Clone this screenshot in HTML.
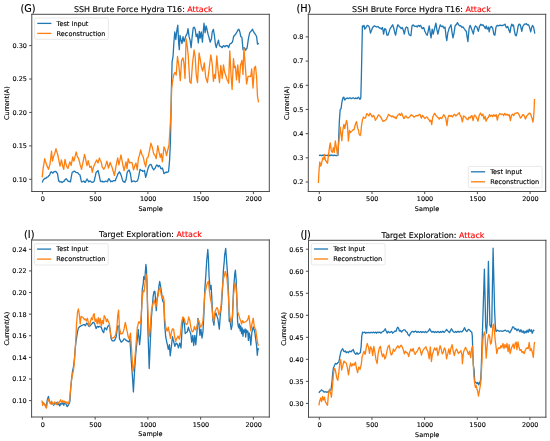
<!DOCTYPE html><html><head><meta charset="utf-8"><title>Reconstruction plots</title><style>html,body{margin:0;padding:0;background:#fff;overflow:hidden;}svg{display:block;}text{font-family:"DejaVu Sans","Liberation Sans",sans-serif;}</style></head><body>
<svg width="550" height="441" viewBox="0 0 550 441">
<rect width="550" height="441" fill="#fff"/>
<g>
<clipPath id="cG"><rect x="31.8" y="14.3" width="237.5" height="177.2"/></clipPath>
<polyline clip-path="url(#cG)" points="42.2,182.4 42.7,181.21 43.2,180.02 43.7,179.3 44.2,179.18 44.7,178.4 45.2,178.55 45.7,178.14 46.2,178 46.83,177.2 47.47,177.21 48.1,176.8 48.75,175.73 49.4,175.5 49.93,174.21 50.47,172.65 51,171.8 51.5,171.83 52,172.53 52.5,173 53.1,172.89 53.7,171.86 54.3,171.8 54.87,171.42 55.43,171.65 56,171.4 56.5,172.57 57,173 57.5,173.7 58.1,177.4 58.7,181.1 59.33,181.24 59.97,182 60.6,181.8 61.2,181.59 61.8,182.52 62.4,182.4 63.03,181.78 63.67,181.21 64.3,181.1 64.93,179.92 65.57,179.26 66.2,178.6 66.8,179.72 67.4,179.98 68,181.1 68.5,181.31 69,181.51 69.5,181.41 70,181.7 70.5,181.8 71.07,178.27 71.63,175.14 72.2,172.4 72.72,171.84 73.25,171.96 73.78,171.43 74.3,171.2 74.93,171.43 75.57,172.08 76.2,172.4 76.8,172.56 77.4,172.62 78,173 78.63,173.9 79.27,174.45 79.9,174.9 80.43,176.97 80.97,179.57 81.5,181.8 82.03,181.65 82.55,181.79 83.07,181.48 83.6,181.1 84.23,181.34 84.87,182.4 85.5,182.4 86,180.89 86.5,179.99 87,178.9 87.53,180.1 88.07,180.52 88.6,181.8 89.23,181.56 89.87,180.92 90.5,181.1 91.1,181.68 91.7,182.2 92.3,182.4 92.93,182.03 93.57,181.87 94.2,181.1 94.83,178.03 95.47,175.48 96.1,172.4 96.73,171.85 97.37,171.21 98,170.5 98.7,173.26 99.4,176.1 99.9,178.91 100.4,181.1 100.9,181.64 101.4,181.36 101.9,181.67 102.4,181.26 102.9,181.8 103.4,181.84 103.9,181.65 104.4,181.82 104.9,181.53 105.4,181.1 106.03,181.14 106.67,181.46 107.3,181.8 107.83,180.89 108.37,179.24 108.9,178.6 109.5,179.63 110.1,180.43 110.7,181.8 111.25,181.28 111.8,181.05 112.35,181.52 112.9,181.1 113.4,180.65 113.9,180.63 114.4,180.64 114.9,180.95 115.4,180.5 115.9,178.76 116.4,177.73 116.9,176.46 117.4,175.41 117.9,173.7 118.4,173.35 118.9,172.76 119.4,171.8 119.93,172.63 120.47,173.79 121,174.9 121.63,176.84 122.27,179.38 122.9,181.1 123.53,181.95 124.17,181.65 124.8,182.4 125.4,180.86 126,179.9 126.6,176.15 127.2,172.4 127.83,171.33 128.47,170.49 129.1,169.9 129.75,171.79 130.4,173.7 131,177.75 131.6,181.8 132.23,181.65 132.87,181.12 133.5,181.1 134.13,180.89 134.77,181.49 135.4,181.8 136,181.45 136.6,181.39 137.2,181.1 137.85,179.66 138.5,177.4 139,174.87 139.5,172.01 140,169.3 140.53,169.81 141.07,170.26 141.6,170.5 142.13,170.33 142.67,171.33 143.2,171.2 143.85,171.1 144.5,170.5 145.1,174.29 145.7,177.4 146.35,175.17 147,172.4 147.6,170.1 148.2,168 148.7,166.88 149.2,165.58 149.7,164.9 150.2,164.95 150.7,164.37 151.2,164.7 151.8,165.96 152.4,168 153.05,168.69 153.7,169.9 154.23,168.96 154.77,168.49 155.3,168 155.83,166.56 156.37,165.48 156.9,164.9 157.55,165.54 158.2,166.8 158.8,165.79 159.4,165.5 159.9,166.44 160.4,167.21 160.9,168.7 161.4,168.8 161.9,168.34 162.4,168 162.93,169.58 163.47,171.58 164,173.7 164.57,173.13 165.13,172.71 165.7,172.4 166.27,171.99 166.83,172.58 167.4,172.2 168,172.14 168.6,171.2 169.1,165.6 169.6,160 170.4,142.5 170.9,120 171.4,90 172.1,61.9 172.6,58.85 173.1,55.8 173.9,42.2 174.8,32 175.3,35.75 175.8,39.5 176.35,34.75 176.9,30 177.8,25.2 178.6,42.2 179.3,49.6 180,35.4 180.9,39.5 181.45,41.47 182,43.5 182.5,40.1 183,36.7 183.55,39.09 184.1,41.5 185,38.8 185.55,36.73 186.1,35.4 186.6,34.34 187.1,34 188,28.6 188.55,32.65 189.1,36.7 189.65,38.61 190.2,40.8 191.1,47.6 191.6,42.5 192.1,37.4 192.65,32.65 193.2,27.9 193.75,27.34 194.3,27.2 195.2,29.3 195.7,33 196.2,36.7 196.75,35.65 197.3,34 197.8,38.45 198.3,42.9 198.8,37.1 199.3,31.3 200.2,38.1 200.75,34.75 201.3,32 201.85,37.1 202.4,42.2 202.9,36.1 203.4,30 204,23.2 204.55,27.95 205.1,32.7 205.6,29.3 206.1,25.9 206.75,28.17 207.4,31.3 208.1,34.41 208.8,36.7 209.5,39.48 210.2,42.2 210.85,40.18 211.5,38.8 212.2,32 212.8,30.69 213.4,29.3 213.9,32.35 214.4,35.4 214.9,39.8 215.4,44.2 216.3,47.6 216.85,45.12 217.4,43.5 217.95,41.83 218.5,40.1 219,43.28 219.5,45.6 220.15,46.28 220.8,46.3 221.5,47.13 222.2,47.6 222.85,46.39 223.5,45.6 224.2,46.13 224.9,46.9 225.6,45.95 226.3,45.6 226.95,45.84 227.6,45.6 228.1,46.63 228.6,47.6 229.15,46.15 229.7,44.2 230.35,43.7 231,43.5 231.7,42.6 232.4,42.2 233.05,39.43 233.7,36.1 234.4,35.84 235.1,34.7 235.8,34.02 236.5,32.7 237.15,31.58 237.8,29.9 238.35,29.89 238.9,29.3 239.4,30.87 239.9,32 240.8,36.7 241.35,36.8 241.9,37.4 242.45,43.5 243,49.6 243.65,48.62 244.3,47.6 245,48.82 245.7,50.3 246.35,48.88 247,48.3 247.7,43.55 248.4,38.8 249.1,35.33 249.8,32.7 250.45,31.8 251.1,31.3 251.8,30.08 252.5,29.3 253.15,30.82 253.8,32 254.5,33.41 255.2,34 255.9,35.3 256.6,36.7 257.5,44.2 258,43.94 258.5,42.9" fill="none" stroke="#1f77b4" stroke-width="1.3" stroke-linejoin="round" stroke-linecap="butt"/>
<polyline clip-path="url(#cG)" points="42.2,177.4 43.1,168.7 43.63,165.37 44.17,162.03 44.7,158.7 45.35,161.19 46,163 46.9,165.5 47.43,167.09 47.97,167.94 48.5,169.3 49,167.44 49.5,165.78 50,164.3 50.5,159.93 51,155.57 51.5,151.2 52,156.2 52.5,161.2 53,158.79 53.5,156.8 54.1,155.04 54.7,153.7 55.35,151.29 56,148.7 56.5,150.65 57,152.27 57.5,153.7 58.1,156.49 58.7,159.3 59.35,162.86 60,166.2 60.7,163.31 61.4,160 61.9,162.21 62.4,165 63.05,167.26 63.7,169.3 64.35,164.3 65,159.3 65.7,162.69 66.4,165.5 66.93,166.66 67.47,167.61 68,168.4 68.63,166.18 69.27,163.77 69.9,161.8 70.55,163.85 71.2,165.5 71.7,162.48 72.2,159.91 72.7,156.8 73.3,159.33 73.9,161.2 74.48,158.78 75.05,156.43 75.62,154.46 76.2,151.8 76.8,154.46 77.4,156.8 78.3,158 79,160 79.6,162.27 80.2,165 80.85,166.89 81.5,169.3 82.1,166.26 82.7,163.7 83.3,160.85 83.9,157.65 84.5,154.3 85.1,156.55 85.7,159.3 86.35,162.63 87,165.5 87.6,163.39 88.2,160.6 88.73,162.98 89.27,165.03 89.8,167.4 90.45,166.83 91.1,166.2 91.7,169.04 92.3,172.4 92.95,169.26 93.6,166.8 94.2,165.58 94.8,163.7 95.43,162.57 96.07,161.25 96.7,160 97.35,161.8 98,163 98.7,160.45 99.4,158 99.97,159.53 100.53,160.76 101.1,161.8 101.7,164.4 102.3,167.4 102.83,167.86 103.37,168.52 103.9,169.3 104.4,168.09 104.9,167.29 105.4,166.2 105.9,164.36 106.4,162.81 106.9,161.2 107.43,163.21 107.97,166.02 108.5,168 109.07,166.03 109.63,164.24 110.2,162.4 110.7,163.73 111.2,165.22 111.7,166.2 112.2,167.81 112.7,169.83 113.2,171.2 113.8,173.35 114.4,175.5 114.93,172.42 115.47,169.32 116,166.2 116.57,163.13 117.13,160.69 117.7,158 118.3,161.23 118.9,164.9 119.43,162.08 119.95,160.16 120.47,157.25 121,155 121.53,157.88 122.07,160.96 122.6,163.7 123.1,166.01 123.6,168.11 124.1,170.5 124.73,167.68 125.37,164.87 126,162 126.5,165.35 127,168.7 127.6,163.7 128.2,158.7 128.85,161.05 129.5,163 130,162.52 130.5,162.64 131,162.4 131.6,162.52 132.2,163 132.85,166.29 133.5,169.9 134.1,168.24 134.7,166.2 135.35,164.61 136,163 136.6,166.49 137.2,169.9 137.85,163.95 138.5,158 139,156.68 139.5,155 140.1,152.79 140.7,150 141.35,152.46 142,155 142.6,155.98 143.2,156.8 143.85,159.9 144.5,163 145.1,164.91 145.7,166.8 146.35,162.4 147,158 147.6,157.53 148.2,156.8 148.8,153.97 149.4,151.2 149.9,148.52 150.4,145.78 150.9,143.1 151.55,145.26 152.2,146.8 152.7,149.24 153.2,151.66 153.7,153.7 154.3,154.66 154.9,155 155.55,156.68 156.2,158.7 156.73,154.33 157.27,149.97 157.8,145.6 158.4,148.74 159,151.8 159.65,154.91 160.3,157.4 161.2,153.7 161.8,157.75 162.4,161.8 162.93,156.8 163.47,151.8 164,146.8 164.65,148.64 165.3,150 165.9,152.55 166.5,155.6 167.15,152.54 167.8,150 168.4,147.46 169,145 169.6,135 170.4,122 171,109.8 171.7,88 172.25,83.95 172.8,79.9 173.35,76.9 173.9,74.5 174.8,72.4 175.5,73.57 176.2,75.1 176.85,65.8 177.5,56.5 178.2,61.25 178.9,66 179.6,73.3 180.3,80.6 180.95,70.55 181.6,60.5 182.3,58.95 183,58 183.9,63 184.45,70.75 185,78.5 185.55,58.65 186.1,38.8 186.6,41.9 187.1,45 187.65,50 188.2,55 188.73,63.97 189.27,72.93 189.8,81.9 190.45,82.72 191.1,83.3 191.8,73.45 192.5,63.6 193.03,59.07 193.57,54.53 194.1,50 194.65,53.5 195.2,57 195.7,65.75 196.2,74.5 196.85,78.55 197.5,82.6 198.03,72.73 198.57,62.87 199.1,53 199.7,56.45 200.3,59.5 200.8,62.9 201.3,66.3 202,68.98 202.7,71.1 203.23,68.12 203.77,65.78 204.3,62.9 205,70.05 205.7,77.2 206.27,79.11 206.83,80.55 207.4,82.6 208.1,77.15 208.8,71.7 209.3,67.47 209.8,63.25 210.3,59.02 210.8,54.8 211.5,59.4 212.2,64 212.8,72.65 213.4,81.3 213.9,77.9 214.4,74.5 214.9,76.77 215.4,78.5 216.1,67.25 216.8,56 217.45,63.2 218.1,70.4 218.8,76.5 219.5,82.6 220.15,74.05 220.8,65.5 221.5,72 222.2,78.5 222.85,71.7 223.5,64.9 224.2,69.33 224.9,73.1 225.6,74.95 226.3,77.2 226.95,79.22 227.6,80.6 228.1,81.88 228.6,83.3 229.2,67.15 229.8,51 230.4,62.75 231,74.5 231.55,81.95 232.1,89.4 232.8,74 233.5,58.6 234.4,67.7 234.9,66.99 235.4,66.3 235.95,73.1 236.5,79.9 237.15,72.4 237.8,64.9 238.5,73.75 239.2,82.6 239.85,73.75 240.5,64.9 241.2,63.04 241.9,60.5 242.45,67.5 243,74.5 243.9,47.6 244.6,56.95 245.3,66.3 245.95,75.15 246.6,84 247.3,80.48 248,76.5 248.7,76.26 249.4,76.5 250.05,76.45 250.7,76.5 251.2,72.75 251.7,69 252.35,78.5 253,88 253.7,77.85 254.4,67.7 254.95,67.01 255.5,66.3 256.05,71.75 256.6,77.2 257.5,96.2 258,99.25 258.5,102.3" fill="none" stroke="#ff7f0e" stroke-width="1.3" stroke-linejoin="round" stroke-linecap="butt"/>
<path d="M31.8,13.8V192M269.3,13.8V192M31.3,14.3H269.8M31.3,191.5H269.8" fill="none" stroke="#4d4d4d" stroke-width="1.0"/>
<g fill="#000" stroke="#000" stroke-width="0.12">
<line x1="42.4" y1="191.5" x2="42.4" y2="194.1" stroke="#4d4d4d" stroke-width="1.0"/>
<text x="42.7" y="201.3" font-size="6.47" text-anchor="middle">0</text>
<line x1="95.15" y1="191.5" x2="95.15" y2="194.1" stroke="#4d4d4d" stroke-width="1.0"/>
<text x="95.45" y="201.3" font-size="6.47" text-anchor="middle">500</text>
<line x1="147.9" y1="191.5" x2="147.9" y2="194.1" stroke="#4d4d4d" stroke-width="1.0"/>
<text x="148.2" y="201.3" font-size="6.47" text-anchor="middle">1000</text>
<line x1="200.65" y1="191.5" x2="200.65" y2="194.1" stroke="#4d4d4d" stroke-width="1.0"/>
<text x="200.95" y="201.3" font-size="6.47" text-anchor="middle">1500</text>
<line x1="253.4" y1="191.5" x2="253.4" y2="194.1" stroke="#4d4d4d" stroke-width="1.0"/>
<text x="253.7" y="201.3" font-size="6.47" text-anchor="middle">2000</text>
<line x1="29.2" y1="179.3" x2="31.8" y2="179.3" stroke="#4d4d4d" stroke-width="1.0"/>
<text x="26.9" y="181.66" font-size="6.47" text-anchor="end">0.10</text>
<line x1="29.2" y1="145.88" x2="31.8" y2="145.88" stroke="#4d4d4d" stroke-width="1.0"/>
<text x="26.9" y="148.24" font-size="6.47" text-anchor="end">0.15</text>
<line x1="29.2" y1="112.45" x2="31.8" y2="112.45" stroke="#4d4d4d" stroke-width="1.0"/>
<text x="26.9" y="114.81" font-size="6.47" text-anchor="end">0.20</text>
<line x1="29.2" y1="79.02" x2="31.8" y2="79.02" stroke="#4d4d4d" stroke-width="1.0"/>
<text x="26.9" y="81.38" font-size="6.47" text-anchor="end">0.25</text>
<line x1="29.2" y1="45.6" x2="31.8" y2="45.6" stroke="#4d4d4d" stroke-width="1.0"/>
<text x="26.9" y="47.96" font-size="6.47" text-anchor="end">0.30</text>
<text x="150.55" y="210.9" font-size="6.47" text-anchor="middle">Sample</text>
<text transform="translate(8.5,103.1) rotate(-90)" font-size="6.47" text-anchor="middle">Current(A)</text>
<text x="74.0" y="12.0" font-size="7.95">SSH Brute Force Hydra T16: <tspan fill="#ff0000" stroke="#ff0000">Attack</tspan></text>
<text x="20.4" y="11.6" font-size="9.75">(G)</text>
</g>
<rect x="34.6" y="18" width="73.8" height="21.3" rx="1.3" fill="#fff" fill-opacity="0.8" stroke="#e0e0e0" stroke-width="0.7"/>
<line x1="37.3" y1="23.4" x2="51.4" y2="23.4" stroke="#1f77b4" stroke-width="1.3"/>
<text x="56.5" y="25.7" font-size="6.55" fill="#000" stroke="#000" stroke-width="0.12">Test Input</text>
<line x1="37.3" y1="33.4" x2="51.4" y2="33.4" stroke="#ff7f0e" stroke-width="1.3"/>
<text x="56.5" y="35.7" font-size="6.55" fill="#000" stroke="#000" stroke-width="0.12">Reconstruction</text>
</g>
<g>
<clipPath id="cH"><rect x="308.3" y="14.3" width="237.4" height="177.2"/></clipPath>
<polyline clip-path="url(#cH)" points="319,155.6 319.5,155.37 320,155.16 320.5,155.3 321,155.25 321.5,155.68 322,155.6 322.5,155.08 323,155.38 323.5,155.2 324,155.25 324.5,155.01 325,155.5 325.5,155.3 326,155.47 326.5,155.3 327,155.41 327.5,155.15 328,155.6 328.5,155.85 329,155.56 329.5,155.2 330,155.68 330.5,155.08 331,155.5 331.5,155.25 332,155 332.5,155.3 333,155.62 333.5,155.32 334,155.6 334.5,155.2 335,155.34 335.5,155.3 336,155.7 336.5,155.69 337,155.5 337.9,155.4 338.4,144.8 338.9,132.55 339.4,120.3 340.2,109.5 341.1,108.8 341.8,102.7 342.35,100.11 342.9,97.9 343.4,97.27 343.9,97.2 344.5,99.9 345.2,99.59 345.9,98.6 346.6,98.31 347.3,97.9 347.95,98.41 348.6,98.6 349.3,97.92 350,97.9 350.53,97.78 351.07,98.52 351.6,98.6 352.3,98.19 353,97.9 353.65,97.91 354.3,98.6 355,98.6 355.7,97.9 356.35,98.36 357,98.6 357.7,98.14 358.4,97.2 359.1,97.92 359.8,99.3 360.3,98.88 360.8,97.9 361.3,80 361.8,55 362.4,25.9 363.2,26.5 364,25.4 364.8,29.2 365.6,28.1 366.5,26.5 367.05,25.6 367.6,25.4 368.15,25.94 368.7,25.9 369.5,28.1 370,30.51 370.5,33 371.05,31.52 371.6,30.3 372.15,28.69 372.7,27 373.4,26.79 374.1,25.9 374.75,26.01 375.4,26.5 375.95,26.45 376.5,27 377.15,26.77 377.8,26.5 378.3,26.82 378.8,27.25 379.3,28.1 379.85,27.83 380.4,28.1 380.9,28.29 381.4,29.2 381.95,28.11 382.5,27.5 383.05,30.65 383.6,34.1 384.15,31.19 384.7,28.6 385.25,29.11 385.8,29.2 386.35,32.03 386.9,35.2 387.45,35.2 388,35.2 388.55,33.29 389.1,31.9 389.65,30.13 390.2,28.6 390.75,27.41 391.3,27 392,25.7 392.7,24.8 393.4,27 393.95,28.81 394.5,31.4 395.05,33.49 395.6,35.2 396.15,32.24 396.7,29.2 397.25,26.75 397.8,24.8 398.35,25.33 398.9,25.9 399.45,26.8 400,27 400.55,27.49 401.1,28.6 401.65,28.31 402.2,27.5 402.75,28.85 403.3,30.3 403.8,32.2 404.3,34.1 404.85,31.62 405.4,28.6 405.95,27.71 406.5,27 407.05,27.26 407.6,27.5 408.15,30.65 408.7,33.5 409.25,34.74 409.8,35.2 410.35,35.32 410.9,35.7 411.45,30.8 412,25.9 412.55,25.62 413.1,24.8 413.65,25.52 414.2,25.9 415,26.5 415.55,26.31 416.1,25.9 416.65,26.37 417.2,27 417.75,26.08 418.3,25.4 418.85,25.59 419.4,26.5 419.95,25.65 420.5,25.4 421,26.11 421.5,27.5 422.05,28.24 422.6,28.6 423.15,27.85 423.7,27.5 424.25,29.18 424.8,31.4 425.35,32.12 425.9,33.5 426.55,34.62 427.2,35.2 427.75,33.05 428.3,30.3 429.2,25.9 430,31.4 430.55,34.79 431.1,37.9 431.65,33.55 432.2,29.2 432.75,31.48 433.3,34.1 433.85,31.44 434.4,29.2 434.9,27.03 435.4,25.17 435.9,23.2 436.8,29.2 437.35,31.38 437.9,34.1 438.45,31.61 439,29.2 439.65,26.81 440.3,24.8 441,26.02 441.7,26.5 442.25,26.58 442.8,25.9 443.35,27.04 443.9,28.1 444.45,27.35 445,27 445.55,31.9 446.1,36.8 446.8,40.6 447.35,36.5 447.9,32.4 448.45,30.87 449,28.6 449.55,27.4 450.1,26.5 451,24.8 451.55,28.9 452.1,33 453,37.9 453.5,35.59 454,33.5 454.55,29.7 455.1,25.9 455.75,24.95 456.4,24.8 456.95,23.61 457.5,22.6 458.05,23.68 458.6,24.8 459.15,25.35 459.7,25.9 460.25,25.66 460.8,25.9 461.35,26.7 461.9,27.5 462.45,26.85 463,27 463.55,27.61 464.1,28.6 464.65,29.12 465.2,30.3 465.75,30.77 466.3,31.4 467.1,36.8 467.9,41.7 468.45,35.45 469,29.2 469.55,26.93 470.1,25.4 470.65,26.37 471.2,28.1 471.75,29.39 472.3,31 472.8,32.34 473.3,34.1 473.85,31.17 474.4,28.1 474.95,27.02 475.5,25.9 476.2,26.65 476.9,27 477.6,29.33 478.3,31.4 478.95,28.82 479.6,25.9 480.15,25.4 480.7,24.3 481.35,24.76 482,25.4 482.55,24.96 483.1,24.8 483.65,26.04 484.2,26.5 484.75,27.27 485.3,28.6 486.2,25.9 486.75,27.73 487.3,29.2 487.85,28.21 488.4,27 489.2,31.9 489.75,29.09 490.3,27 490.95,27.02 491.6,26.5 492.15,27.61 492.7,28.1 493.25,31.2 493.8,34.1 494.35,34.84 494.9,35.2 495.45,31.1 496,27 496.55,26.45 497.1,25.4 497.63,25.28 498.17,25.75 498.7,25.9 499.35,25.45 500,25 500.6,25.43 501.2,25.58 501.8,25.5 502.4,25.59 503,25.23 503.6,25 504.3,24.86 505,24.1 505.7,26.05 506.4,27.7 507.05,27.2 507.7,26.4 508.4,28.23 509.1,30.5 510,32.7 510.9,26.8 511.8,24.1 512.7,25.9 513.5,25 514.4,30.9 515.3,35 516.2,35.9 517.1,32.3 518,26.8 518.55,25.07 519.1,24.1 519.65,24.26 520.2,25 520.9,27.3 521.8,31.4 522.7,26.8 523.25,25.79 523.8,25 524.4,24.23 525,24.1 525.7,24.12 526.4,23.6 527.3,25 528.2,24.5 529.1,25.9 530,29.1 530.7,31.8 531.6,27.7 532.5,25.5 533,26.2 533.5,26.8 534.4,31.4 534.8,33.6" fill="none" stroke="#1f77b4" stroke-width="1.3" stroke-linejoin="round" stroke-linecap="butt"/>
<polyline clip-path="url(#cH)" points="318.4,183 319,170.8 319.8,161.9 320.3,164.05 320.8,166 321.7,162.6 322.25,160.35 322.8,157.9 323.35,158.69 323.9,159.2 324.4,154.5 324.95,157.54 325.5,160.6 326.05,160.85 326.6,161.9 327.5,163.3 328,159.2 328.5,155.1 329.05,150.7 329.6,146.3 330.3,142.9 331.2,150.4 331.75,151.64 332.3,152.4 332.85,150.25 333.4,147.7 334.3,152.4 334.8,146.65 335.3,140.9 335.85,144.3 336.4,147.7 336.95,151.4 337.5,155.1 338.4,146.3 338.9,141.45 339.4,136.6 340.2,127.1 341.1,133.9 341.8,140.7 342.35,135.25 342.9,129.8 343.4,127.1 343.9,124.4 344.8,128.5 345.6,124.4 346.1,122.38 346.6,120.3 347.5,125.8 348.4,141 348.95,135.75 349.5,130.5 350.05,131.68 350.6,132.6 351.1,131.55 351.6,131.2 352.3,130.69 353,129.8 353.5,129.6 354,129.8 354.7,126.76 355.4,124.4 355.95,122.86 356.5,121.7 357.4,127.1 357.9,128.73 358.4,130 359.3,134.6 360.2,135.5 360.7,134.4 361.5,125.7 362.4,120.3 362.95,118.41 363.5,117 364,117.74 364.5,118.1 365.05,118.18 365.6,117.5 366.15,115.6 366.7,113.7 367.25,113.91 367.8,114.3 368.35,115.08 368.9,115.9 369.45,114.7 370,113.2 370.55,114.21 371.1,114.8 371.65,115.99 372.2,117 372.75,116.31 373.3,115.4 373.85,115.86 374.4,117 374.9,118.37 375.4,120.3 375.95,119.25 376.5,118.6 377.05,117.74 377.6,116.5 378.15,115.49 378.7,114.8 379.25,115.4 379.8,115.9 380.35,116.31 380.9,117.5 381.45,118.25 382,119.7 382.55,120.37 383.1,121.4 383.65,121.24 384.2,120.8 384.75,120.7 385.3,120.3 385.85,119.89 386.4,119.2 386.9,117.93 387.4,117 387.95,115.66 388.5,114.3 389.05,114.82 389.6,115.4 390.15,115.62 390.7,115.9 391.25,116.14 391.8,117 392.35,116.76 392.9,115.9 393.45,116.46 394,117.5 394.55,117.63 395.1,117 395.65,118.15 396.2,118.6 396.75,116.86 397.3,115.9 397.8,115.32 398.3,114.8 398.85,114.51 399.4,113.7 399.95,114.92 400.5,115.4 401.05,114.26 401.6,113.2 402.15,114.36 402.7,115.9 403.25,117.02 403.8,118.6 404.35,118.16 404.9,117 405.45,116.22 406,115.9 406.55,116.77 407.1,117.5 407.65,117.51 408.2,118.1 408.75,117.57 409.3,117 409.8,116.81 410.3,115.9 410.85,115.06 411.4,114.8 411.95,115.36 412.5,115.4 413.05,116.21 413.6,117 414.15,117.06 414.7,116.5 415.25,116.21 415.8,115.6 416.6,115.9 417.17,115.52 417.73,115.88 418.3,115.4 418.83,115.02 419.37,114.29 419.9,114.3 420.6,115.8 421.3,118.1 421.95,116.74 422.6,115.4 423.15,116.16 423.7,117 424.35,117.64 425,118.6 425.5,117.78 426,117.41 426.5,117 427,117.1 427.5,117.5 428.05,118.62 428.6,119.2 429.15,119.9 429.7,121.4 430.25,121.05 430.8,120.3 431.7,124.6 432.2,120.8 432.7,117 433.25,116.17 433.8,114.8 434.3,113.7 434.8,113.2 435.35,114.64 435.9,115.4 436.45,116.12 437,116.5 437.55,117.32 438.1,117.5 438.65,118.18 439.2,119.2 439.75,118.25 440.3,117.5 440.85,117.96 441.4,118.6 441.95,118.2 442.5,117 443.05,115.97 443.6,114.8 444.15,115.24 444.7,115.9 445.25,117.19 445.8,118.6 446.4,121.97 447,125.7 447.9,118.1 448.45,116.39 449,115.4 449.55,115.63 450.1,116.5 450.65,116.22 451.2,115.4 451.75,116.03 452.3,117 452.85,116.55 453.4,115.4 453.95,114.65 454.5,114.3 455.05,114.91 455.6,115.9 456.15,115.66 456.7,115.4 457.2,114.6 457.7,114.3 458.2,113.63 458.7,113.53 459.2,112.6 459.75,114.31 460.3,115.4 460.8,116.45 461.3,117 461.85,119.55 462.4,121.9 462.95,119.23 463.5,115.9 464.05,116.55 464.6,116.5 465.15,117.04 465.7,117.5 466.25,118.53 466.8,119.2 467.35,119.09 467.9,119.7 468.45,118.54 469,117 469.55,117.51 470.1,118.1 470.65,117.2 471.2,115.9 472,115.7 472.55,118.27 473.1,120.6 473.75,117.73 474.4,115.2 475.1,115.39 475.8,116.3 476.35,117.69 476.9,118.4 477.45,119.5 478,121.2 478.55,118.43 479.1,115.7 479.8,114.22 480.5,113 481.15,114.19 481.8,115.7 482.35,115.09 482.9,114.1 483.45,116.93 484,119 484.55,117.46 485.1,116.3 486,121.2 486.65,119.92 487.3,118.4 487.85,117.74 488.4,117.4 488.9,116.05 489.4,114.6 489.95,115.37 490.5,116.3 491.05,115.48 491.6,115.2 492.15,115.73 492.7,116.8 493.25,115.47 493.8,114.6 494.45,115.77 495.1,116.3 495.65,115.45 496.2,114.6 496.75,117.13 497.3,120.1 497.85,117.98 498.4,115.2 499.1,114.75 499.8,113.5 500.5,114.01 501.2,114.6 501.85,114.06 502.5,114.1 503.05,114.65 503.6,115.7 504.15,114.27 504.7,113.5 505.35,114.22 506,115.2 506.55,114.32 507.1,114.1 507.65,114.69 508.2,115.7 508.75,114.96 509.3,114.6 509.85,117.66 510.4,120.6 510.95,118.21 511.5,115.2 512.05,114.85 512.6,114.1 513.15,114.83 513.7,115.7 514.2,114.53 514.7,113.5 515.27,113.39 515.83,113.13 516.4,113.1 517.05,112.77 517.7,112.7 518.4,113.45 519.1,114.9 519.75,116.32 520.4,118.1 521.1,117.57 521.8,116.3 522.5,115.1 523.2,114.5 523.85,115.4 524.5,116.3 525.4,119 526.1,117.5 526.8,115.8 527.45,115.44 528.1,114.5 528.8,113.57 529.5,113.1 530.05,113.37 530.6,114 531.5,116.7 532.2,119 533,122.2 533.6,117.2 534.2,108.1 534.5,99.1" fill="none" stroke="#ff7f0e" stroke-width="1.3" stroke-linejoin="round" stroke-linecap="butt"/>
<path d="M308.3,13.8V192M545.7,13.8V192M307.8,14.3H546.2M307.8,191.5H546.2" fill="none" stroke="#4d4d4d" stroke-width="1.0"/>
<g fill="#000" stroke="#000" stroke-width="0.12">
<line x1="319.3" y1="191.5" x2="319.3" y2="194.1" stroke="#4d4d4d" stroke-width="1.0"/>
<text x="319.6" y="201.3" font-size="6.47" text-anchor="middle">0</text>
<line x1="372" y1="191.5" x2="372" y2="194.1" stroke="#4d4d4d" stroke-width="1.0"/>
<text x="372.3" y="201.3" font-size="6.47" text-anchor="middle">500</text>
<line x1="424.7" y1="191.5" x2="424.7" y2="194.1" stroke="#4d4d4d" stroke-width="1.0"/>
<text x="425" y="201.3" font-size="6.47" text-anchor="middle">1000</text>
<line x1="477.4" y1="191.5" x2="477.4" y2="194.1" stroke="#4d4d4d" stroke-width="1.0"/>
<text x="477.7" y="201.3" font-size="6.47" text-anchor="middle">1500</text>
<line x1="530.1" y1="191.5" x2="530.1" y2="194.1" stroke="#4d4d4d" stroke-width="1.0"/>
<text x="530.4" y="201.3" font-size="6.47" text-anchor="middle">2000</text>
<line x1="305.7" y1="182" x2="308.3" y2="182" stroke="#4d4d4d" stroke-width="1.0"/>
<text x="303.4" y="184.36" font-size="6.47" text-anchor="end">0.2</text>
<line x1="305.7" y1="157.82" x2="308.3" y2="157.82" stroke="#4d4d4d" stroke-width="1.0"/>
<text x="303.4" y="160.18" font-size="6.47" text-anchor="end">0.3</text>
<line x1="305.7" y1="133.63" x2="308.3" y2="133.63" stroke="#4d4d4d" stroke-width="1.0"/>
<text x="303.4" y="135.99" font-size="6.47" text-anchor="end">0.4</text>
<line x1="305.7" y1="109.45" x2="308.3" y2="109.45" stroke="#4d4d4d" stroke-width="1.0"/>
<text x="303.4" y="111.81" font-size="6.47" text-anchor="end">0.5</text>
<line x1="305.7" y1="85.27" x2="308.3" y2="85.27" stroke="#4d4d4d" stroke-width="1.0"/>
<text x="303.4" y="87.63" font-size="6.47" text-anchor="end">0.6</text>
<line x1="305.7" y1="61.08" x2="308.3" y2="61.08" stroke="#4d4d4d" stroke-width="1.0"/>
<text x="303.4" y="63.44" font-size="6.47" text-anchor="end">0.7</text>
<line x1="305.7" y1="36.9" x2="308.3" y2="36.9" stroke="#4d4d4d" stroke-width="1.0"/>
<text x="303.4" y="39.26" font-size="6.47" text-anchor="end">0.8</text>
<text x="427" y="210.9" font-size="6.47" text-anchor="middle">Sample</text>
<text transform="translate(288.8,103.1) rotate(-90)" font-size="6.47" text-anchor="middle">Current(A)</text>
<text x="352.1" y="12.0" font-size="7.95">SSH Brute Force Hydra T16: <tspan fill="#ff0000" stroke="#ff0000">Attack</tspan></text>
<text x="296.4" y="11.6" font-size="9.75">(H)</text>
</g>
<rect x="468.3" y="166.4" width="73.8" height="21.3" rx="1.3" fill="#fff" fill-opacity="0.8" stroke="#e0e0e0" stroke-width="0.7"/>
<line x1="471" y1="171.8" x2="485.1" y2="171.8" stroke="#1f77b4" stroke-width="1.3"/>
<text x="490.2" y="174.1" font-size="6.55" fill="#000" stroke="#000" stroke-width="0.12">Test Input</text>
<line x1="471" y1="181.8" x2="485.1" y2="181.8" stroke="#ff7f0e" stroke-width="1.3"/>
<text x="490.2" y="184.1" font-size="6.55" fill="#000" stroke="#000" stroke-width="0.12">Reconstruction</text>
</g>
<g>
<clipPath id="cI"><rect x="31.6" y="240.0" width="237.7" height="177"/></clipPath>
<polyline clip-path="url(#cI)" points="42,401.9 42.7,402.25 43.4,403.2 44.1,403.78 44.8,404.6 45.45,405.24 46.1,406 46.8,403.14 47.5,399.2 48.4,396.4 48.95,399.22 49.5,401.2 50,402.3 50.5,402.5 51,402.63 51.5,403.9 52,402.79 52.5,402.8 53.05,404.3 53.6,405.3 54.1,404.62 54.6,403 55.1,403.42 55.6,403.9 56.1,403.3 56.6,402.5 57.15,402.95 57.7,404.6 58.2,403.67 58.7,403 59.2,405.01 59.7,406 60.2,405.14 60.7,403.5 61.2,404.13 61.7,403.9 62.25,403.92 62.8,402.8 63.3,403.75 63.8,405.3 64.3,403.68 64.8,403 65.3,403.04 65.8,403.9 66.5,405.28 67.2,406.6 67.85,405.82 68.5,404.6 69.2,403.43 69.9,401.2 70.6,390 71.5,380 72.05,375.3 72.6,370.6 73.1,368.57 73.6,366 74.5,358 75.3,348 76.1,340.8 76.8,336.35 77.5,331.9 78.4,327.9 79.1,327.38 79.8,326.5 80.45,326.47 81.1,325.8 81.8,325.4 82.5,325.1 83.2,324.86 83.9,324.5 84.55,324.6 85.2,325.8 85.9,324.79 86.6,323.1 87.25,323.48 87.9,324.5 88.6,326 89.3,326.5 90,325.97 90.7,325.1 91.35,324.21 92,323.8 92.7,322.65 93.4,322.4 94.05,322.8 94.7,323.8 95.4,326.31 96.1,328.5 96.65,327.74 97.2,326.5 97.85,326.38 98.5,327.2 99.2,326.33 99.9,326.5 100.6,326.88 101.3,327.2 101.95,329.35 102.6,331.3 103.15,331.82 103.7,332.6 104.6,327.9 105.1,327.87 105.6,328.5 106.15,329.32 106.7,329.9 107.25,327.61 107.8,326.5 108.45,325.56 109.1,325.1 109.6,327.1 110.1,329.2 111,338 111.7,339.95 112.4,340.8 113.1,340.97 113.8,340.8 114.45,340.56 115.1,339.4 115.65,338.02 116.2,336.7 116.9,331.25 117.6,325.8 118.25,325.83 118.9,326.5 119.5,338.9 120.2,340.05 120.9,341.8 121.53,342.02 122.17,341.38 122.8,340.8 123.43,339.94 124.07,338.96 124.7,338.9 125.2,339.37 125.7,340.06 126.2,340.23 126.7,340.8 127.33,340.84 127.97,341.67 128.6,341.8 129.25,340.86 129.9,338.9 130.5,348.55 131.1,358.2 131.8,367.8 132.5,377.4 133.4,391.9 133.9,382.75 134.4,373.6 135.05,363.95 135.7,354.3 136.23,349.17 136.77,344.03 137.3,338.9 138.2,329.3 138.9,337 139.6,344.7 140.15,338.9 140.7,333.1 141.4,314.8 142.3,289 143.2,284.2 143.7,276.7 144.25,277.77 144.8,279.5 145.35,272 145.9,264.5 146.4,268.6 147.2,289 147.9,328.8 148.55,348.65 149.2,368.5 149.75,355 150.3,341.5 150.85,329.6 151.4,317.7 152.3,306.6 153.2,295.8 154,291.7 154.5,291.14 155,291.7 155.7,302.6 156.3,310.7 157,299.8 157.55,296.4 158.1,293 158.6,288.95 159.1,284.9 159.7,281.5 160.25,284.36 160.8,287.6 161.3,291 161.8,294.4 162.7,301.2 163.25,301.8 163.8,302.6 164.6,324 165.15,330.35 165.7,336.7 166.35,340.12 167,343.1 167.65,345.89 168.3,349.4 168.85,347.41 169.4,344.7 170.2,355.8 170.8,351.05 171.4,346.3 171.95,341.5 172.5,336.7 173.1,339.39 173.7,341.5 174.3,343.91 174.9,346.3 175.55,344.35 176.2,343.1 176.75,344.06 177.3,343.9 177.85,345.67 178.4,347.9 179.05,345.88 179.7,343.1 180.35,345.18 181,347.9 181.55,338.35 182.1,328.8 182.65,323.25 183.2,317.7 183.8,320.52 184.4,324 185.2,333.6 186,332.6 186.7,332.42 187.4,331.3 187.9,328.88 188.4,327.2 189.1,330.06 189.8,331.3 190.3,332.64 190.8,334 191.7,342.1 192.25,338.7 192.8,335.3 193.7,345.5 194.25,340.4 194.8,335.3 195.3,340.05 195.8,344.8 196.35,338.7 196.9,332.6 197.45,325.45 198,318.3 198.9,323.8 199.4,329.55 199.9,335.3 200.4,332.25 200.9,329.2 201.45,333.6 202,338 202.5,334.65 203,331.3 203.9,313.6 204.8,289.4 205.7,277.2 206.2,269.05 206.7,260.9 207.25,255.2 207.8,249.5 208.4,258.2 209.1,277.2 209.65,283.3 210.2,289.4 211.1,285.3 211.8,297.6 212.35,309 212.9,320.4 213.4,322.37 213.9,325.1 214.8,316.3 215.35,314.27 215.9,312.9 216.45,314.5 217,316.3 217.9,319 218.6,324.1 219.3,329.2 220.2,316.3 220.9,310.2 221.6,304.1 222.4,290.8 222.9,280.6 223.4,270.4 224.3,260.9 224.6,255.4 225.15,251.9 225.7,248.4 226.25,256 226.8,263.6 227.3,270.4 227.8,277.2 228.7,300 229.2,321.3 229.8,318.6 230.5,324.05 231.2,329.5 232.1,325.4 232.8,307.7 233.5,290 234.15,281.8 234.8,273.6 235.4,270.2 236.2,280.4 236.9,300.8 237.6,321.3 238.2,326 238.9,328.1 239.4,324 240.3,330.9 240.8,326 241.6,333.6 242.2,328 243,336.3 243.6,330 244.4,332.2 245.1,329 245.7,337 246.4,330 247.1,332.2 247.8,331 248.4,340.4 249.1,333 249.8,334.9 250.3,340 250.8,345.1 251.35,338.65 251.9,332.2 252.55,329.7 253.2,326.8 253.9,329.39 254.6,330.9 255.15,334.95 255.7,339 256.6,345.8 257.3,355.3 258,348.5 258.7,349.9" fill="none" stroke="#1f77b4" stroke-width="1.3" stroke-linejoin="round" stroke-linecap="butt"/>
<polyline clip-path="url(#cI)" points="42,400.5 42.7,405.3 43.25,403.97 43.8,403.2 44.3,403.81 44.8,404.6 45.7,407.3 46.5,408 47,404.95 47.5,401.9 48.4,399.2 48.95,400.32 49.5,401.9 50.05,403.28 50.6,403.9 51.5,401.2 52,401.91 52.5,403.2 53.05,403.54 53.6,404.6 54.15,402.9 54.7,401.9 55.6,403.2 56.1,403.81 56.6,404.6 57.15,403.57 57.7,401.9 58.25,402.86 58.8,403.2 59.7,401.2 60.2,400.69 60.7,399.8 61.2,401.6 61.7,402.6 62.25,401.9 62.8,400.5 63.3,401.41 63.8,402.6 64.7,401.2 65.25,401.95 65.8,403.2 66.35,402.9 66.9,401.9 67.4,403.1 67.9,403.9 68.8,402.6 69.6,399.8 70.1,394.4 70.6,389 71.5,380.1 72.3,375.4 72.8,372.98 73.3,371.3 74,365.9 74.8,356 75.7,340.8 76.5,324.5 77,318.35 77.5,312.2 78.4,308.8 79.2,313.6 79.7,318.7 80.2,323.8 81.1,316.3 81.65,316.78 82.2,317 82.75,317.25 83.3,317.7 83.8,318.6 84.3,319.7 85.2,319 85.75,319.92 86.3,321.1 86.85,319.44 87.4,318.3 88.3,322.4 88.85,324.05 89.4,326.5 89.9,323.92 90.4,321.7 90.95,319.58 91.5,317.7 92.4,319.7 92.9,317.66 93.4,314.9 94.2,313.6 95.1,321.7 95.6,320.05 96.1,319 96.65,321.77 97.2,323.8 97.75,320.52 98.3,317.7 99.2,323.8 99.7,320.94 100.2,318.3 100.75,322.05 101.3,325.8 101.8,323.36 102.3,320.4 102.8,322.36 103.3,323.8 104.2,315.6 104.75,316.6 105.3,317.7 105.85,319.34 106.4,321.7 106.9,320.33 107.4,319 108.3,321.7 108.85,322.65 109.4,323.8 109.95,328.9 110.5,334 111.4,337.4 112.1,338.04 112.8,338 113.5,337.45 114.2,337.4 114.85,336.24 115.5,335.3 116.2,331.57 116.9,327.2 117.8,314.9 118.6,310.2 119.5,328.3 120.2,330.82 120.9,334.1 121.53,333.7 122.17,333.68 122.8,333.1 123.5,330.91 124.2,328.3 124.75,325.03 125.3,322.5 126,325.53 126.7,329.3 127.35,332.3 128,336 128.6,337.79 129.2,338.9 129.85,335.81 130.5,333.1 131,340.8 131.5,348.5 132,356.23 132.5,363.97 133,371.7 133.7,368.05 134.4,364 135.05,356.25 135.7,348.5 136.23,341.43 136.77,334.37 137.3,327.3 137.8,325.72 138.3,323.37 138.8,321.6 139.5,322.37 140.2,323.5 141.1,317.7 141.6,308.75 142.1,299.8 142.65,295.05 143.2,290.3 144.1,291.7 144.6,286.95 145.1,282.2 145.9,274 146.8,278.1 147.5,302.6 148.2,318 148.7,327.35 149.2,336.7 149.75,332.35 150.3,328 151.1,314.5 151.6,309.3 152.25,306.97 152.9,303.9 153.45,301.94 154,299.8 154.5,301.66 155,303.9 155.9,306.6 156.45,302.55 157,298.5 157.55,297.32 158.1,295.8 158.6,292.4 159.1,289 160,287.6 160.55,291 161.1,294.4 161.65,296.3 162.2,298.5 163.1,295.8 163.6,298.32 164.1,301.2 164.6,317.7 165.15,322.45 165.7,327.2 166.35,328.8 167,331.2 167.65,329.4 168.3,327.2 168.85,330.33 169.4,332.8 169.95,335.66 170.5,338.3 171.4,332 171.95,330.75 172.5,328.8 173.1,328.82 173.7,329.6 174.6,336.7 175.15,338.89 175.7,341.5 176.25,339.88 176.8,338.3 177.45,337.52 178.1,336 178.75,337.91 179.4,339.1 179.95,336.26 180.5,333.6 181.05,328.05 181.6,322.5 182.25,319.5 182.9,316.9 183.5,317.64 184.1,318.5 184.65,320.49 185.2,322.5 185.75,323.84 186.3,324.5 186.85,323.9 187.4,323.8 188.05,320.64 188.7,317 189.25,318.89 189.8,320.4 190.3,323.8 190.8,327.2 191.45,329.81 192.1,331.9 192.8,331.47 193.5,330.6 194.4,326.5 194.95,328.29 195.5,329.9 196.2,328.41 196.9,327.2 197.55,323.31 198.2,319.7 198.9,321.29 199.6,323.1 200.15,325.38 200.7,327.2 201.35,325.81 202,325.1 202.5,322.51 203,320.4 203.9,308.2 204.8,293.5 205.45,290.95 206.1,288 206.8,285.1 207.5,282.6 208.4,281.3 208.9,286.05 209.4,290.8 209.95,294.85 210.5,298.9 211.15,302.1 211.8,306 212.35,311.85 212.9,317.7 213.4,319.03 213.9,321.1 214.8,312.2 215.35,310.89 215.9,309.5 216.45,308.36 217,307.5 217.9,309.5 218.4,312.58 218.9,314.9 219.45,313.86 220,312.2 220.55,308.8 221.1,305.4 221.65,297.7 222.2,290 222.75,284.5 223.3,279 224,277.14 224.7,274.5 225.2,271.3 225.7,272.5 226.25,274.66 226.8,277.2 227.45,284 228.1,290.8 228.9,305 229.8,317.2 230.5,319.62 231.2,322.7 231.85,318.98 232.5,315.9 233,305.45 233.5,295 234.15,289.4 234.8,283.8 235.5,283.1 236.05,288.55 236.6,294 237.1,302.85 237.6,311.7 238.5,313.8 239.05,315.85 239.6,317.9 240.15,319.42 240.7,320.6 241.6,324 242.1,322.26 242.6,320.6 243.15,321.44 243.7,322.7 244.25,322.28 244.8,322 245.45,321.75 246.1,321.3 246.8,320.79 247.5,320 248.2,317.95 248.9,315.5 249.8,322.7 250.3,326.8 250.8,330.9 251.35,327.45 251.9,324 252.55,321.38 253.2,318.2 253.75,322.5 254.3,326.8 255,328.28 255.7,329.5 256.6,336.3 257.1,339.7 257.6,343.1 258.4,345.8" fill="none" stroke="#ff7f0e" stroke-width="1.3" stroke-linejoin="round" stroke-linecap="butt"/>
<path d="M31.6,239.5V417.5M269.3,239.5V417.5M31.1,240.0H269.8M31.1,417.0H269.8" fill="none" stroke="#4d4d4d" stroke-width="1.0"/>
<g fill="#000" stroke="#000" stroke-width="0.12">
<line x1="42.4" y1="417.0" x2="42.4" y2="419.6" stroke="#4d4d4d" stroke-width="1.0"/>
<text x="42.7" y="426.8" font-size="6.47" text-anchor="middle">0</text>
<line x1="95.15" y1="417.0" x2="95.15" y2="419.6" stroke="#4d4d4d" stroke-width="1.0"/>
<text x="95.45" y="426.8" font-size="6.47" text-anchor="middle">500</text>
<line x1="147.9" y1="417.0" x2="147.9" y2="419.6" stroke="#4d4d4d" stroke-width="1.0"/>
<text x="148.2" y="426.8" font-size="6.47" text-anchor="middle">1000</text>
<line x1="200.65" y1="417.0" x2="200.65" y2="419.6" stroke="#4d4d4d" stroke-width="1.0"/>
<text x="200.95" y="426.8" font-size="6.47" text-anchor="middle">1500</text>
<line x1="253.4" y1="417.0" x2="253.4" y2="419.6" stroke="#4d4d4d" stroke-width="1.0"/>
<text x="253.7" y="426.8" font-size="6.47" text-anchor="middle">2000</text>
<line x1="29" y1="400.6" x2="31.6" y2="400.6" stroke="#4d4d4d" stroke-width="1.0"/>
<text x="26.7" y="402.96" font-size="6.47" text-anchor="end">0.10</text>
<line x1="29" y1="378.99" x2="31.6" y2="378.99" stroke="#4d4d4d" stroke-width="1.0"/>
<text x="26.7" y="381.35" font-size="6.47" text-anchor="end">0.12</text>
<line x1="29" y1="357.37" x2="31.6" y2="357.37" stroke="#4d4d4d" stroke-width="1.0"/>
<text x="26.7" y="359.73" font-size="6.47" text-anchor="end">0.14</text>
<line x1="29" y1="335.76" x2="31.6" y2="335.76" stroke="#4d4d4d" stroke-width="1.0"/>
<text x="26.7" y="338.12" font-size="6.47" text-anchor="end">0.16</text>
<line x1="29" y1="314.14" x2="31.6" y2="314.14" stroke="#4d4d4d" stroke-width="1.0"/>
<text x="26.7" y="316.5" font-size="6.47" text-anchor="end">0.18</text>
<line x1="29" y1="292.53" x2="31.6" y2="292.53" stroke="#4d4d4d" stroke-width="1.0"/>
<text x="26.7" y="294.89" font-size="6.47" text-anchor="end">0.20</text>
<line x1="29" y1="270.91" x2="31.6" y2="270.91" stroke="#4d4d4d" stroke-width="1.0"/>
<text x="26.7" y="273.27" font-size="6.47" text-anchor="end">0.22</text>
<line x1="29" y1="249.3" x2="31.6" y2="249.3" stroke="#4d4d4d" stroke-width="1.0"/>
<text x="26.7" y="251.66" font-size="6.47" text-anchor="end">0.24</text>
<text x="150.45" y="436.4" font-size="6.47" text-anchor="middle">Sample</text>
<text transform="translate(8.6,328.7) rotate(-90)" font-size="6.47" text-anchor="middle">Current(A)</text>
<text x="99.1" y="237.1" font-size="7.95">Target Exploration: <tspan fill="#ff0000" stroke="#ff0000">Attack</tspan></text>
<text x="24.0" y="237.5" font-size="9.75">(I)</text>
</g>
<rect x="34.4" y="243.7" width="73.8" height="21.3" rx="1.3" fill="#fff" fill-opacity="0.8" stroke="#e0e0e0" stroke-width="0.7"/>
<line x1="37.1" y1="249.1" x2="51.2" y2="249.1" stroke="#1f77b4" stroke-width="1.3"/>
<text x="56.3" y="251.4" font-size="6.55" fill="#000" stroke="#000" stroke-width="0.12">Test Input</text>
<line x1="37.1" y1="259.1" x2="51.2" y2="259.1" stroke="#ff7f0e" stroke-width="1.3"/>
<text x="56.3" y="261.4" font-size="6.55" fill="#000" stroke="#000" stroke-width="0.12">Reconstruction</text>
</g>
<g>
<clipPath id="cJ"><rect x="308.5" y="240.3" width="237.4" height="176.9"/></clipPath>
<polyline clip-path="url(#cJ)" points="318.9,392.8 319.5,391.82 320.1,391.3 320.6,391.04 321.1,390.24 321.6,389.9 322.1,390.29 322.6,390.6 323.1,391.02 323.6,391.74 324.1,392.1 324.6,391.82 325.1,391.75 325.6,391.8 326.3,391.95 327,392.4 327.5,391.83 328,391.9 328.5,391.3 329,391.11 329.5,390.73 330,390.6 330.5,390.19 331,389.9 331.9,383.2 332.6,374.4 333.4,367.8 333.9,367 334.4,365.6 334.9,364.5 335.4,363.4 336,363.59 336.6,364.1 337.2,363.54 337.8,362.6 338.3,362.34 338.8,361.9 339.3,359.64 339.8,356.8 340.7,352.4 341.2,351.01 341.7,350.1 342.25,349.38 342.8,348.7 343.35,350.34 343.9,351.6 344.4,351.57 344.9,351.38 345.4,350.9 346.2,352.7 346.8,352.02 347.4,351.9 347.95,352.18 348.5,352.7 349.1,351.67 349.7,351.1 350.3,351.31 350.9,351.9 351.55,351.38 352.2,350.3 352.75,349.95 353.3,349.5 353.85,351.36 354.4,352.7 355.05,353.42 355.7,354.3 356.35,353.72 357,352.7 357.55,353.47 358.1,354.3 358.65,353.76 359.2,353.5 359.8,353.17 360.4,352.5 361.1,346.8 361.8,335.9 362.6,332.1 363.5,332.6 364,332.62 364.5,332.1 365.05,332.41 365.6,333.2 366.15,332.86 366.7,332.4 367.25,332.72 367.8,332.9 368.35,332.48 368.9,332.4 369.45,332.57 370,332.9 370.55,332.43 371.1,332.4 371.65,332.47 372.2,332.9 372.75,332.35 373.3,332.1 373.85,332.56 374.4,332.9 374.9,332.59 375.4,332.1 375.95,332.47 376.5,333.2 377.05,332.36 377.6,332.1 378.15,332.25 378.7,332.6 379.25,332.46 379.8,332.1 380.35,332.46 380.9,333.2 381.45,332.54 382,332.1 382.55,331.62 383.1,331.5 383.65,331.18 384.2,330.5 384.75,329.68 385.3,328.8 386.1,331 386.65,331.84 387.2,333.2 387.75,332.11 388.3,331.5 388.85,331.99 389.4,332.6 389.95,332.38 390.5,332.1 391.05,331.88 391.6,331.5 392.15,332.1 392.7,333.2 393.25,332.45 393.8,332.1 394.35,331.67 394.9,331 395.45,331.2 396,331.5 396.5,329.77 397,328.3 397.8,327.2 398.6,328.3 399.4,331 399.95,330.63 400.5,330.5 401.05,331.57 401.6,332.1 402.15,331.19 402.7,330.5 403.25,330.24 403.8,329.9 404.35,329.81 404.9,329.9 405.45,330.65 406,331.5 406.55,332.02 407.1,332.1 407.65,333.75 408.2,334.8 408.75,335.27 409.3,335.9 409.8,334.62 410.3,333.7 410.85,333.04 411.4,332.1 411.95,331.62 412.5,331.5 413.05,331.5 413.6,332.1 414.15,332.04 414.7,331.5 415.25,331.2 415.8,331 416.4,331.89 417,332.4 417.6,331.84 418.2,331.4 418.8,332.13 419.4,332.4 420,331.93 420.6,331.5 421.2,331.85 421.8,332.6 422.4,331.81 423,331.6 423.6,332.08 424.2,332.5 424.8,332.03 425.4,331.4 426,332.25 426.6,332.6 427.2,331.8 427.8,331.5 428.3,331.07 428.8,330.5 429.7,328.8 430.25,329.82 430.8,331 431.4,331.65 432,332.3 432.6,331.64 433.2,331.4 433.8,331.87 434.4,332.6 435,332.11 435.6,331.6 436.2,332.31 436.8,332.5 437.4,331.72 438,331.4 438.6,331.99 439.2,332.6 439.8,332.23 440.4,331.5 441,332.23 441.6,332.4 442.2,331.62 442.8,331.2 443.4,331.63 444,332.5 444.65,332.02 445.3,331 445.95,330.49 446.6,329.4 447.3,330.29 448,331.2 448.7,331.63 449.4,332.6 449.95,331.81 450.5,330.5 451,329.58 451.5,328.8 452.4,330.5 453.2,331.5 453.8,332.19 454.4,332.4 455,331.97 455.6,331.4 456.2,332.04 456.8,332.3 457.4,331.55 458,331.2 458.6,331.87 459.2,332.2 459.8,331.63 460.4,331.4 461,331.64 461.6,332 462.3,331.46 463,330.5 463.53,329.76 464.07,328.44 464.6,327.7 465.15,328.93 465.7,330.5 466.25,330.94 466.8,331.5 467.33,330.81 467.87,330.03 468.4,329.4 468.95,329.42 469.5,329.9 470.05,330.55 470.6,331.5 471.15,331.78 471.7,331.8 472.3,335.9 472.8,352.3 473.3,365 474.1,369.9 474.7,381.2 475.2,382.04 475.7,382.4 476.35,382.77 477,383.7 477.8,382.4 478.7,384.9 479.2,383.69 479.7,382.4 480.2,381.3 480.7,379.9 481.2,369.9 482,345 482.5,330 483.13,309.7 483.77,289.4 484.4,269.1 485.05,297.75 485.7,326.4 486.5,333.2 487.3,321.8 487.85,291.65 488.4,261.5 488.9,282.73 489.4,303.97 489.9,325.2 490.5,326.07 491.1,327.5 491.8,322 492.45,285.1 493.1,248.2 493.6,268.8 494.1,289.4 494.6,310 495.3,326 496,331.3 496.53,331.14 497.07,330.34 497.6,330.2 498.1,330.63 498.6,330.96 499.1,331.3 499.6,331.21 500.1,330.85 500.6,330.8 501.1,330.92 501.6,331.18 502.1,331.3 502.63,331.09 503.17,331.06 503.7,330.8 504.2,330.57 504.7,330.36 505.2,330.2 505.7,330.28 506.2,331 506.7,331.3 507.23,331.13 507.77,330.81 508.3,330.8 508.8,331.62 509.3,332.3 509.8,332.8 510.3,331.91 510.8,330.87 511.3,330.2 511.83,329.02 512.37,327.63 512.9,326.7 513.4,326.98 513.9,327.7 514.4,328.41 514.9,329.2 515.4,328.71 515.9,328.7 516.4,329.72 516.9,330.8 517.45,330.01 518,329.2 518.5,329.42 519,330.2 519.5,331.08 520,331.8 520.5,330.5 521,329.7 521.5,331.14 522,332.3 522.55,331.72 523.1,330.8 523.6,332.06 524.1,333.3 524.6,332.03 525.1,331.3 525.6,332.05 526.1,332.8 526.6,331.43 527.1,330.2 527.65,331.52 528.2,332.3 528.7,330.53 529.2,329.2 529.7,330.46 530.2,331.3 530.7,330.8 531.2,329.7 531.7,331.64 532.2,333.3 532.75,331.94 533.3,330.2 533.8,330.32 534.3,330.8" fill="none" stroke="#1f77b4" stroke-width="1.3" stroke-linejoin="round" stroke-linecap="butt"/>
<polyline clip-path="url(#cJ)" points="318.9,405.3 319.7,400.9 320.2,399.88 320.7,397.9 321.6,401.6 322.1,399.04 322.6,396.5 323.1,398.76 323.6,400.1 324.5,397.2 325.05,400.22 325.6,402.4 326.1,402.77 326.6,403.8 327.5,405.3 328,399.4 328.5,393.5 329,391.59 329.5,389.1 330.1,391.73 330.7,393.5 331.4,397.2 331.95,391.7 332.5,386.2 333.4,374.4 333.9,371.02 334.4,368.5 334.9,369.1 335.4,370 336,373.7 336.6,377.4 337.2,379.11 337.8,380.3 338.3,376.6 338.8,372.9 339.3,367.75 339.8,362.6 340.7,359.7 341.2,364.85 341.7,370 342.25,367.46 342.8,365.6 343.35,363.8 343.9,361.2 344.4,361.41 344.9,362.38 345.4,362.5 345.95,362.79 346.5,363.8 347.4,367.8 347.95,371.35 348.5,374.9 349.1,370.95 349.7,367 350.6,363 351.15,364.6 351.7,366.2 352.25,365.42 352.8,363.8 353.45,364.31 354.1,365.4 354.75,363.56 355.4,362.2 355.95,365.41 356.5,368.6 357.05,370.37 357.6,372.5 358.25,369.29 358.9,367 359.5,367.88 360.1,369.4 360.7,366.51 361.3,364.3 362.1,356.6 362.65,355.44 363.2,353.4 364,351.2 364.55,352.98 365.1,354.4 365.65,351.55 366.2,347.9 366.75,345.37 367.3,343.5 367.85,345.43 368.4,346.8 368.95,349.72 369.5,353.4 370,350.1 370.5,346.8 371.05,347.63 371.6,348.4 372.15,351.95 372.7,355.5 373.25,350.9 373.8,346.3 374.35,349.44 374.9,352.3 375.45,356.1 376,359.9 376.55,361.66 377.1,363.7 377.65,358.55 378.2,353.4 378.75,351.02 379.3,347.9 379.85,347.16 380.4,346.3 380.9,349.3 381.4,352.3 381.95,354.53 382.5,356.6 383.05,355.63 383.6,353.9 384.15,355.95 384.7,358.8 385.25,358.19 385.8,356.6 386.35,354.03 386.9,351.2 387.45,348.89 388,346.8 388.55,346.3 389.1,345.2 389.65,347.96 390.2,351.2 390.75,353.59 391.3,355 391.85,354.28 392.4,353.4 392.9,351.06 393.4,349 393.95,350.36 394.5,351.2 395.05,350.29 395.6,349.5 396.15,348.13 396.7,347.4 397.25,346.79 397.8,345.7 398.35,346.35 398.9,347.9 399.45,347.67 400,346.8 400.55,345.75 401.1,345.2 401.65,346.14 402.2,346.8 402.75,348.63 403.3,349.5 403.8,351.79 404.3,353.9 404.85,352.71 405.4,351.2 405.95,351.81 406.5,352.8 407.05,352.6 407.6,353.4 408.15,354.53 408.7,356.6 409.25,353.8 409.8,351.7 410.35,350.47 410.9,349 411.45,350.03 412,351.2 412.55,349.81 413.1,348.4 413.65,350.75 414.2,352.3 415.1,354.4 415.6,353.23 416.1,352.8 416.65,351.73 417.2,351.2 417.75,350.25 418.3,349 418.85,347.72 419.4,347.4 419.95,348.8 420.5,351.2 421,352.95 421.5,355 422.05,352.71 422.6,351.2 423.15,350.21 423.7,349.5 424.25,348.42 424.8,347.9 425.35,347.43 425.9,346.8 426.45,348.54 427,350.1 427.55,350.9 428.1,352.3 428.65,355.67 429.2,358.8 429.75,352.8 430.3,346.8 430.85,354.15 431.4,361.5 431.9,357.95 432.4,354.4 432.95,352.77 433.5,351.2 434.05,349.18 434.6,347.9 435.15,349.44 435.7,350.1 436.25,348.74 436.8,347.9 437.35,351.7 437.9,355.5 438.45,353 439,351.2 439.55,348.05 440.1,345.7 440.65,347.49 441.2,349 441.75,351.82 442.3,353.9 442.85,353.08 443.4,351.7 443.9,349.7 444.4,347.9 444.95,349.01 445.5,350.6 446.05,354.7 446.6,358.8 447.15,355.86 447.7,353.9 448.25,351.59 448.8,349 449.35,351.76 449.9,354.4 450.45,351 451,347.9 451.55,346.4 452.1,344.6 452.65,347.9 453.2,351.2 453.75,353.29 454.3,355.5 454.8,353.79 455.3,351.2 455.85,350.33 456.4,349 456.95,349.85 457.5,351.2 458.05,352.7 458.6,353.4 459.15,352.39 459.7,352.3 460.25,351.48 460.8,350.6 461.35,352.41 461.9,354.4 462.4,363.7 462.95,358 463.5,352.3 464.05,350.64 464.6,349.5 465.15,348.01 465.7,347.4 466.25,348.98 466.8,350 467.35,351.21 467.9,353.4 468.5,354.4 469,352.85 469.5,351.2 470.1,354.79 470.7,357.5 471.6,348.7 472.5,346.2 473.2,360 473.7,373.7 474.5,382.4 475.4,387.4 476.2,385.5 477,389.3 477.8,391.8 478.5,396.1 479.1,392.4 480,387.4 480.7,383.7 481.2,376.2 482,360 482.3,349.1 483.1,337.7 483.7,334.49 484.3,332 485,334.3 485.7,349.1 486.2,358.2 486.9,349.1 487.7,340 488.25,336.85 488.8,334.3 489.6,336.6 490.5,344 491.4,342.8 492.2,335.5 493,325.2 493.7,324.1 494.5,332 495.3,341.1 496.2,348 496.8,353.7 497.35,351.26 497.9,348.6 498.4,348.11 498.9,347.6 499.4,348.24 499.9,348.6 500.4,347.41 500.9,345.6 501.4,346.27 501.9,347.6 502.45,345.36 503,343.5 503.5,345.85 504,348.6 504.5,346.1 505,344.5 505.5,346.44 506,347.6 506.5,345.83 507,343.5 507.55,347.6 508.1,351.7 508.6,348.1 509.1,344.5 509.6,349.1 510.1,353.7 510.6,351.87 511.1,349.6 511.6,347.61 512.1,346.6 512.65,345.64 513.2,344 513.7,346.55 514.2,348.6 514.7,346.02 515.2,343.5 515.7,342.99 516.2,342 516.9,349.6 517.45,345.8 518,342 518.5,344.75 519,347.6 519.5,348.88 520,350.7 520.5,349.76 521,349.6 521.5,350.88 522,352.7 522.55,351.74 523.1,351.7 523.6,352.54 524.1,353.7 524.6,352.45 525.1,350.7 525.6,349.85 526.1,348.6 526.6,348.45 527.1,347.6 527.65,348.31 528.2,348.6 528.7,345.55 529.2,342.5 529.7,346.6 530.2,350.7 530.7,349.42 531.2,348.6 531.7,350.2 532.2,351.7 532.75,354.44 533.3,357.3 533.8,350.4 534.3,343.5 534.8,342" fill="none" stroke="#ff7f0e" stroke-width="1.3" stroke-linejoin="round" stroke-linecap="butt"/>
<path d="M308.5,239.8V417.7M545.9,239.8V417.7M308,240.3H546.4M308,417.2H546.4" fill="none" stroke="#4d4d4d" stroke-width="1.0"/>
<g fill="#000" stroke="#000" stroke-width="0.12">
<line x1="319.3" y1="417.2" x2="319.3" y2="419.8" stroke="#4d4d4d" stroke-width="1.0"/>
<text x="319.6" y="427" font-size="6.47" text-anchor="middle">0</text>
<line x1="371.95" y1="417.2" x2="371.95" y2="419.8" stroke="#4d4d4d" stroke-width="1.0"/>
<text x="372.25" y="427" font-size="6.47" text-anchor="middle">500</text>
<line x1="424.6" y1="417.2" x2="424.6" y2="419.8" stroke="#4d4d4d" stroke-width="1.0"/>
<text x="424.9" y="427" font-size="6.47" text-anchor="middle">1000</text>
<line x1="477.25" y1="417.2" x2="477.25" y2="419.8" stroke="#4d4d4d" stroke-width="1.0"/>
<text x="477.55" y="427" font-size="6.47" text-anchor="middle">1500</text>
<line x1="529.9" y1="417.2" x2="529.9" y2="419.8" stroke="#4d4d4d" stroke-width="1.0"/>
<text x="530.2" y="427" font-size="6.47" text-anchor="middle">2000</text>
<line x1="305.9" y1="403.4" x2="308.5" y2="403.4" stroke="#4d4d4d" stroke-width="1.0"/>
<text x="303.6" y="405.76" font-size="6.47" text-anchor="end">0.30</text>
<line x1="305.9" y1="381.37" x2="308.5" y2="381.37" stroke="#4d4d4d" stroke-width="1.0"/>
<text x="303.6" y="383.73" font-size="6.47" text-anchor="end">0.35</text>
<line x1="305.9" y1="359.34" x2="308.5" y2="359.34" stroke="#4d4d4d" stroke-width="1.0"/>
<text x="303.6" y="361.7" font-size="6.47" text-anchor="end">0.40</text>
<line x1="305.9" y1="337.31" x2="308.5" y2="337.31" stroke="#4d4d4d" stroke-width="1.0"/>
<text x="303.6" y="339.67" font-size="6.47" text-anchor="end">0.45</text>
<line x1="305.9" y1="315.29" x2="308.5" y2="315.29" stroke="#4d4d4d" stroke-width="1.0"/>
<text x="303.6" y="317.65" font-size="6.47" text-anchor="end">0.50</text>
<line x1="305.9" y1="293.26" x2="308.5" y2="293.26" stroke="#4d4d4d" stroke-width="1.0"/>
<text x="303.6" y="295.62" font-size="6.47" text-anchor="end">0.55</text>
<line x1="305.9" y1="271.23" x2="308.5" y2="271.23" stroke="#4d4d4d" stroke-width="1.0"/>
<text x="303.6" y="273.59" font-size="6.47" text-anchor="end">0.60</text>
<line x1="305.9" y1="249.2" x2="308.5" y2="249.2" stroke="#4d4d4d" stroke-width="1.0"/>
<text x="303.6" y="251.56" font-size="6.47" text-anchor="end">0.65</text>
<text x="427.2" y="436.6" font-size="6.47" text-anchor="middle">Sample</text>
<text transform="translate(285.6,328.95) rotate(-90)" font-size="6.47" text-anchor="middle">Current(A)</text>
<text x="381.6" y="237.5" font-size="7.95">Target Exploration: <tspan fill="#ff0000" stroke="#ff0000">Attack</tspan></text>
<text x="300.4" y="237.7" font-size="9.75">(J)</text>
</g>
<rect x="311.3" y="243.6" width="73.8" height="21.3" rx="1.3" fill="#fff" fill-opacity="0.8" stroke="#e0e0e0" stroke-width="0.7"/>
<line x1="314" y1="249" x2="328.1" y2="249" stroke="#1f77b4" stroke-width="1.3"/>
<text x="333.2" y="251.3" font-size="6.55" fill="#000" stroke="#000" stroke-width="0.12">Test Input</text>
<line x1="314" y1="259" x2="328.1" y2="259" stroke="#ff7f0e" stroke-width="1.3"/>
<text x="333.2" y="261.3" font-size="6.55" fill="#000" stroke="#000" stroke-width="0.12">Reconstruction</text>
</g>
</svg></body></html>
